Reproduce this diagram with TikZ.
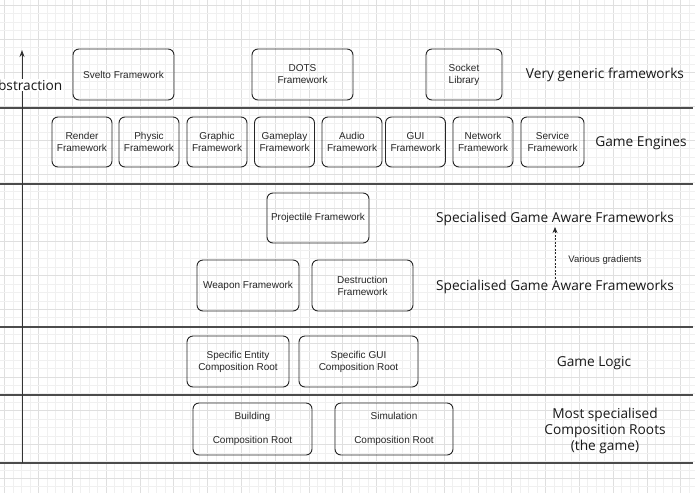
\documentclass[tikz,border=0pt]{standalone}
\usepackage{fontspec}
\setmainfont{Liberation Sans}
\newfontfamily\labelfont{Open Sans}
\usetikzlibrary{arrows.meta}
\begin{document}
\begin{tikzpicture}[x=1pt,y=-1pt,
  box/.style={draw=black!85, line width=0.9pt, rounded corners=6pt, align=center,
    font=\fontsize{10}{12}\selectfont, text=black!85, inner sep=0pt},
  lane/.style={draw=black!70, line width=1.3pt},
  lbl/.style={font=\labelfont\fontsize{13.7}{16}\selectfont, text=black!90, align=center, inner sep=1pt},
  minorgrid/.style={draw=gray!12, line width=0.5pt},
  majorgrid/.style={draw=gray!25, line width=0.5pt},
  axisline/.style={draw=black!80, line width=0.9pt, -{Stealth[length=7pt,width=5pt]}},
  gradarrow/.style={draw=black!85, line width=0.8pt, dash pattern=on 2pt off 1.5pt, -{Stealth[length=6pt,width=5pt]}}]
\useasboundingbox (0,0) rectangle (695,493);
\fill[white] (0,0) rectangle (695,493);
% grid
\foreach \i in {0,...,83}{
  \pgfmathsetmacro{\xx}{4.6+\i*8.45}
  \pgfmathtruncatemacro{\m}{mod(\i,4)}
  \ifnum\m=0 \draw[majorgrid] (\xx,0) -- (\xx,493); \else \draw[minorgrid] (\xx,0) -- (\xx,493); \fi
}
\foreach \i in {0,...,59}{
  \pgfmathsetmacro{\yy}{5+\i*8.45}
  \pgfmathtruncatemacro{\m}{mod(\i,4)}
  \ifnum\m=0 \draw[majorgrid] (0,\yy) -- (695,\yy); \else \draw[minorgrid] (0,\yy) -- (695,\yy); \fi
}
% lanes
\draw[lane] (0,108) -- (693,108);
\draw[lane] (0,184) -- (693,184);
\draw[lane] (0,327) -- (693,327);
\draw[lane] (0,395) -- (693,395);
\draw[lane] (0,463) -- (693,463);
% axis
\coordinate (axb) at (22,463);
\coordinate (axt) at (22,50);
\draw[axisline] (axb) -- (axt);
\node[font=\labelfont\fontsize{13.7}{16}\selectfont, fill=white, inner sep=1pt, anchor=east, text=black!90] (abs) at (63.5,85) {Abstraction};
% row 1
\node[box, minimum width=101, minimum height=51] (svelto) at (123.5,74.5) {Svelto Framework};
\node[box, minimum width=101, minimum height=51] (dots) at (302.5,74.5) {DOTS\\Framework};
\node[box, minimum width=76, minimum height=51] (socket) at (464,74.5) {Socket\\Library};
\node[lbl] (l1) at (605,75) {Very generic frameworks};
% row 2
\node[box, minimum width=60, minimum height=50] (render) at (82,142) {Render\\Framework};
\node[box, minimum width=60, minimum height=50] (physic) at (149,142) {Physic\\Framework};
\node[box, minimum width=60, minimum height=50] (graphic) at (217,142) {Graphic\\Framework};
\node[box, minimum width=60, minimum height=50] (gameplay) at (284.5,142) {Gameplay\\Framework};
\node[box, minimum width=60, minimum height=50] (audio) at (352,142) {Audio\\Framework};
\node[box, minimum width=60, minimum height=50] (gui) at (415.5,142) {GUI\\Framework};
\node[box, minimum width=60, minimum height=50] (network) at (483,142) {Network\\Framework};
\node[box, minimum width=63, minimum height=50] (service) at (552.5,142) {Service\\Framework};
\node[lbl] (l2) at (641,143) {Game Engines};
% row 3
\node[box, minimum width=102, minimum height=50] (proj) at (318,218) {Projectile Framework};
\node[box, minimum width=102, minimum height=51] (weapon) at (248,285.5) {Weapon Framework};
\node[box, minimum width=101, minimum height=51] (destr) at (362.5,285.5) {Destruction\\Framework};
\node[lbl] (sg1) at (555,219) {Specialised Game Aware Frameworks};
\node[lbl] (sg2) at (555,287) {Specialised Game Aware Frameworks};
\draw[gradarrow] (sg2.north) -- (sg1.south);
\node[font=\fontsize{9.5}{11}\selectfont, text=black!85] (grad) at (605,260) {Various gradients};
% row 4
\node[box, minimum width=102, minimum height=51] (entity) at (238,361.5) {Specific Entity\\Composition Root};
\node[box, minimum width=119, minimum height=51] (sgui) at (358.5,361.5) {Specific GUI\\Composition Root};
\node[lbl] (l4) at (594,363) {Game Logic};
% row 5
\node[box, minimum width=119, minimum height=52] (building) at (252.5,429) {Building\\[12pt]Composition Root};
\node[box, minimum width=118, minimum height=52] (sim) at (394,429) {Simulation\\[12pt]Composition Root};
\node[lbl] (l5) at (605,431) {Most specialised\\Composition Roots\\(the game)};
\end{tikzpicture}
\end{document}
